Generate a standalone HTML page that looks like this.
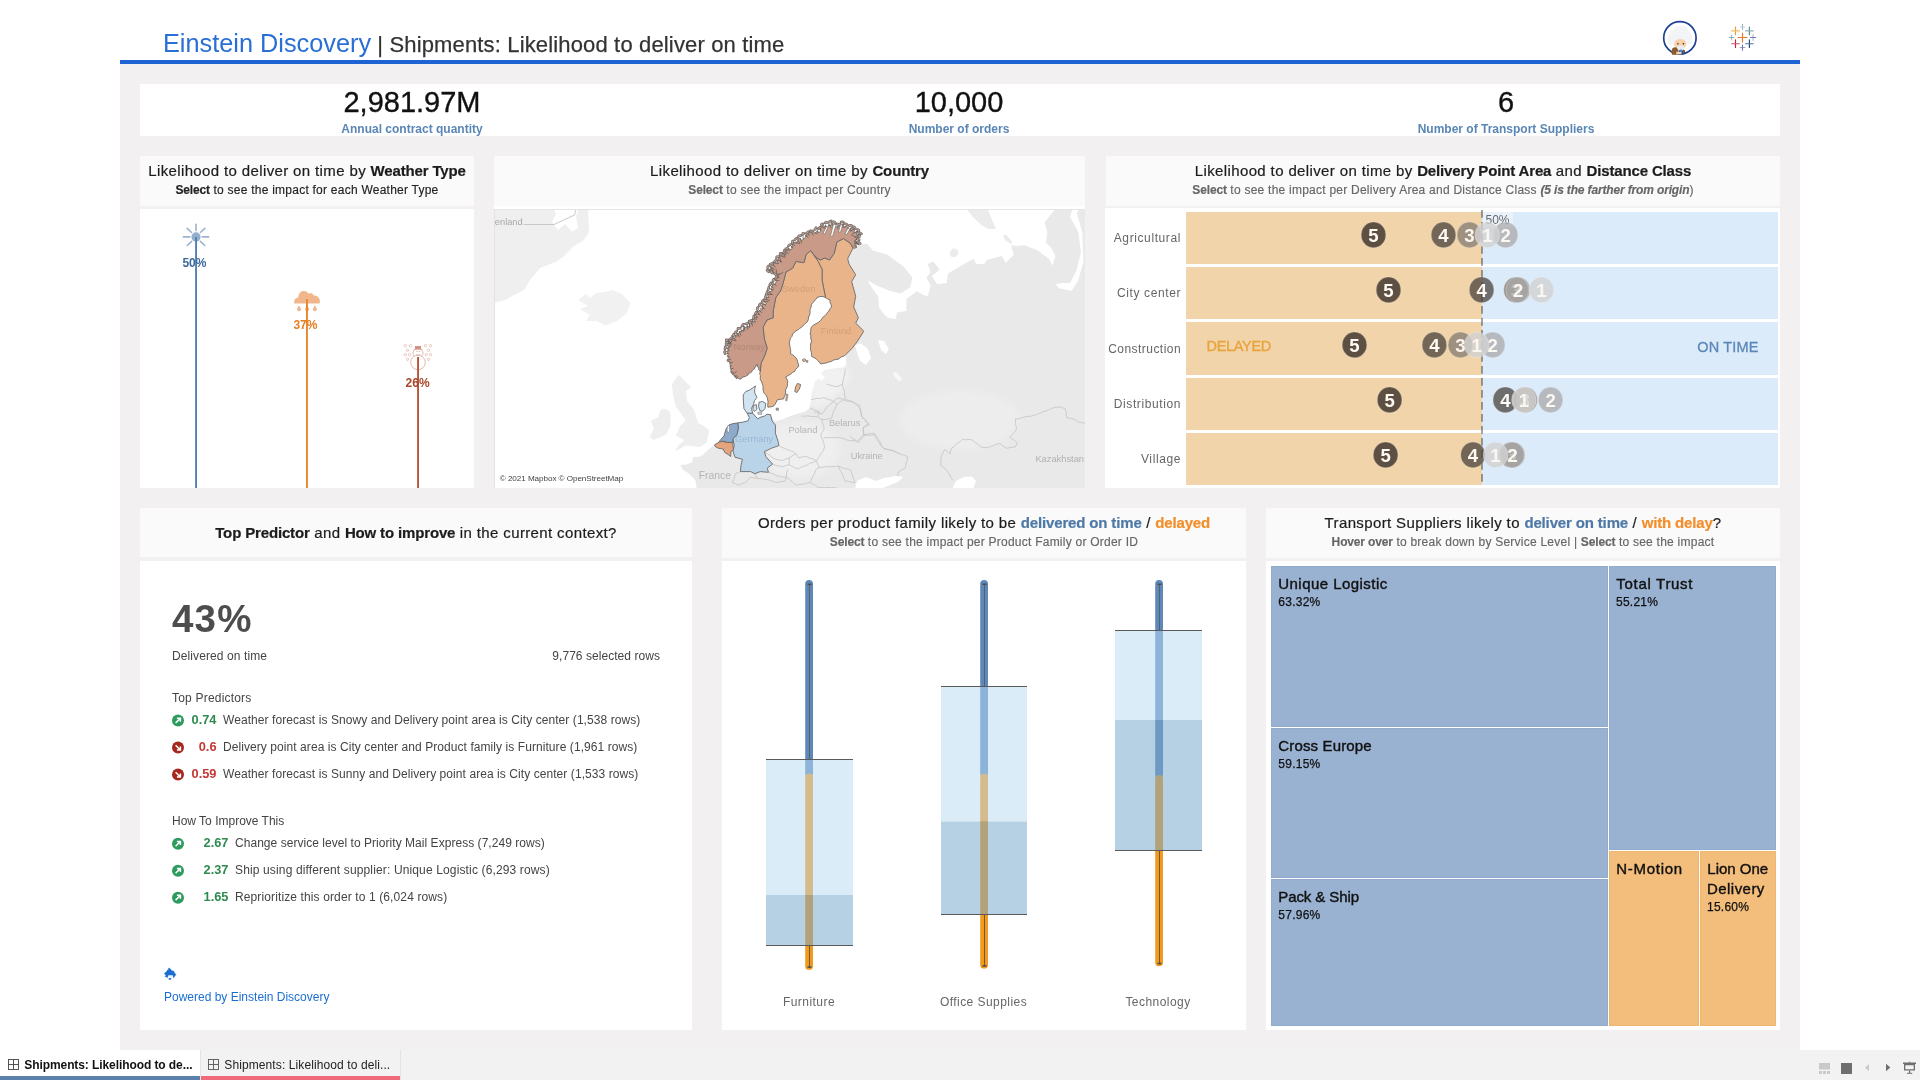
<!DOCTYPE html>
<html>
<head>
<meta charset="utf-8">
<title>Shipments: Likelihood to deliver on time</title>
<style>
html,body{margin:0;padding:0;}
body{width:1920px;height:1080px;overflow:hidden;background:#fff;font-family:"Liberation Sans",sans-serif;color:#333;position:relative;}
.abs{position:absolute;}
#pred,#title,.hdr,.kpi,#tabs,svg{will-change:transform;}
#graybg{left:120px;top:64px;width:1680px;height:986px;background:#f2f0f1;}
#bluebar{left:120px;top:60px;width:1680px;height:4px;background:#1d63d3;}
#title{left:163px;top:27px;height:32px;line-height:32px;white-space:nowrap;}
#title .ed{font-size:25.3px;color:#2a6fd6;}
#title .rest{font-size:22px;color:#333;letter-spacing:0.15px;-webkit-text-stroke:0.25px;}
.panel{background:#fff;}
.hdr{background:#fafafa;text-align:center;white-space:nowrap;}
.hdr .t1{position:absolute;left:0;right:0;font-size:15px;color:#1c1c1c;letter-spacing:0.37px;-webkit-text-stroke:0.2px;}
.hdr .t2{position:absolute;left:0;right:0;font-size:12px;color:#666;letter-spacing:0.24px;-webkit-text-stroke:0.15px;}
.hdr b{font-weight:bold;letter-spacing:-0.15px;}
.kpi{position:absolute;text-align:center;white-space:nowrap;}
.kpi .v{font-size:29px;color:#111;line-height:30px;-webkit-text-stroke:0.35px #111;}
.kpi .l{font-size:12px;color:#5a86b6;font-weight:bold;line-height:14px;}
#tabs{left:0;top:1050px;width:1920px;height:30px;background:#f2f2f2;}
</style>
</head>
<body>
<div id="graybg" class="abs"></div>
<div id="bluebar" class="abs"></div>
<div id="title" class="abs"><span class="ed">Einstein Discovery</span><span class="rest"> | Shipments: Likelihood to deliver on time</span></div>


<!-- LOGOS -->
<svg class="abs" style="left:1655px;top:15px" width="110" height="45" viewBox="1655 15 110 45">
  <defs><clipPath id="ec"><circle cx="1679.9" cy="37.9" r="16.2"/></clipPath></defs>
  <circle cx="1679.900" cy="37.900" r="16.200" fill="none" stroke="#1c3f94" stroke-width="1.700"/>
  <g>
    <path d="M1668,43 C1666.500,38 1669,33.500 1672,32 C1672.500,28 1676.500,25.500 1680,26.500 C1683,24.500 1687.500,27 1688,30.500 C1691.500,32 1693.500,36.500 1692,41 C1693,43 1691,45 1688,44.500 L1672,45 C1669.500,45.500 1668.200,44.500 1668,43Z" fill="#f3f4f6"/>
    <path d="M1674.600,46 C1673.500,42.500 1675.500,39.500 1679,39.300 C1681,39 1684.500,39.200 1685.600,41.500 C1686.800,43.500 1686.400,46.500 1684.500,47.800 L1676.500,47.800Z" fill="#f8d0aa"/>
    <rect x="1677.200" y="43" width="1.400" height="1.500" fill="#5a4a3c"/><rect x="1682.800" y="43" width="1.300" height="1.500" fill="#3c3028"/>
    <path d="M1676.500,46.200 Q1680.500,44.800 1684.300,46.200 L1683.600,49.400 L1680.500,50.200 L1677.500,49.200Z" fill="#e9ebee"/>
    <path d="M1672,49.500 C1672.500,47.500 1675,46.800 1676.800,47.800 L1678.800,51 L1677,54.800 L1672.200,54.800 C1671.300,53 1671.400,51 1672,49.500Z" fill="#8a5b2c"/>
    <path d="M1683,49.400 L1684.800,50.200 L1685.400,53 L1683.200,53.600Z" fill="#7a4e26"/>
    <path d="M1678.800,50.200 L1682.800,50.200 L1683.400,53.800 L1679.500,54Z" fill="#1d4f9f"/>
    <path d="M1680.200,49.600 L1681.600,49.600 L1682,52.600 L1680.800,53.600 L1679.800,52.400Z" fill="#2f8fdd"/>
    <path d="M1676.400,51.800 L1681.600,52 L1681.400,54.300 L1676.200,54.500Z" fill="#f8d0aa"/>
  </g>
  <g stroke-width="1.150" stroke-linecap="round" fill="none">
    <path d="M1738.100,37.500 h8.800 M1742.500,33.100 v8.800" stroke="#e8762c"/>
    <path d="M1735.500,27.100 v7.600" stroke="#eb9d27"/><path d="M1731.700,30.900 h7.600" stroke="#f0b961"/>
    <path d="M1749.400,27.100 v7.600" stroke="#59879b"/><path d="M1745.600,30.900 h7.600" stroke="#8fb0bc"/>
    <path d="M1735.500,39.900 v7.600" stroke="#c72035"/><path d="M1731.700,43.700 h7.600" stroke="#d4506a"/>
    <path d="M1749.400,39.900 v7.600" stroke="#1f447e"/><path d="M1745.600,43.700 h7.600" stroke="#5070a6"/>
    <g stroke-width="0.900">
    <path d="M1742.500,24.400 v5.200" stroke="#8aa9b6"/><path d="M1740.300,27 h4.400" stroke="#b3cad2"/>
    <path d="M1742.500,45 v5.400" stroke="#5a699d"/><path d="M1740.200,47.600 h4.600" stroke="#8089b5"/>
    <path d="M1731.600,35 v5" stroke="#8fb3b6"/><path d="M1729.300,37.500 h4.600" stroke="#7ba3a8"/>
    <path d="M1753.100,34.600 v5.800" stroke="#9aa0c6"/><path d="M1750.300,37.500 h5.600" stroke="#666fa6"/>
    </g>
  </g>
</svg>
<!-- KPI row -->
<div class="abs panel" style="left:140px;top:84px;width:1640px;height:52px;"></div>
<div class="kpi" style="left:312px;top:87px;width:200px;"><div class="v">2,981.97M</div><div class="l" style="margin-top:5px">Annual contract quantity</div></div>
<div class="kpi" style="left:859px;top:87px;width:200px;"><div class="v">10,000</div><div class="l" style="margin-top:5px">Number of orders</div></div>
<div class="kpi" style="left:1406px;top:87px;width:200px;"><div class="v">6</div><div class="l" style="margin-top:5px">Number of Transport Suppliers</div></div>

<!-- Row 2 headers -->
<div class="abs hdr" id="h1" style="left:140px;top:156px;width:334px;height:50px;">
  <div class="t1" style="top:6px">Likelihood to deliver on time by <b>Weather Type</b></div>
  <div class="t2" style="top:27px;color:#222"><b>Select</b> to see the impact for each Weather Type</div>
</div>
<div class="abs hdr" id="h2" style="left:494px;top:156px;width:591px;height:50px;">
  <div class="t1" style="top:6px">Likelihood to deliver on time by <b>Country</b></div>
  <div class="t2" style="top:27px"><b>Select</b> to see the impact per Country</div>
</div>
<div class="abs hdr" id="h3" style="left:1106px;top:156px;width:674px;height:50px;">
  <div class="t1" style="top:6px">Likelihood to deliver on time by <b>Delivery Point Area</b> and <b>Distance Class</b></div>
  <div class="t2" style="top:27px"><b>Select</b> to see the impact per Delivery Area and Distance Class <b><i>(5 is the farther from origin</i></b>)</div>
</div>

<!-- Row 2 panels -->
<div class="abs panel" id="p1" style="left:140px;top:209px;width:334px;height:279px;"></div>
<div class="abs panel" id="p2" style="left:494px;top:206px;width:591px;height:282px;"></div>
<div class="abs panel" id="p3" style="left:1105px;top:208px;width:675px;height:280px;"></div>


<!-- WEATHER CHART -->
<svg class="abs" style="left:140px;top:209px" width="334" height="279" viewBox="140 209 334 279">
  <g stroke="#9ab3cf" stroke-width="1.6" stroke-linecap="round">
    <line x1="183.3" y1="236.9" x2="189.7" y2="236.9"/><line x1="202.3" y1="236.9" x2="208.7" y2="236.9"/>
    <line x1="196" y1="224.4" x2="196" y2="230.6"/>
    <line x1="187.2" y1="228.3" x2="191.6" y2="232.5"/><line x1="204.8" y1="228.3" x2="200.4" y2="232.5"/>
    <line x1="187.2" y1="245.5" x2="191.6" y2="241.3"/><line x1="204.8" y1="245.5" x2="200.4" y2="241.3"/>
  </g>
  <circle cx="196" cy="236.9" r="4.6" fill="#94afcc"/>
  <rect x="195.1" y="237" width="1.9" height="251" fill="#557fae"/>
  <text x="194.4" y="266.6" font-size="12" font-weight="bold" fill="#3d6a9c" text-anchor="middle">50%</text>

  <path d="M294.2,303.4 C293.6,300 295.8,297.6 298.3,297.4 C298.3,293.6 300.8,291.1 303.8,291.1 C306,291.1 307.8,292.3 308.8,294 C309.6,293 311.2,292.7 312.2,293.6 C313,294.2 313.4,294.9 313.6,295.6 C316.6,295 319.9,297.6 319.9,301.2 C319.9,302 319.8,302.8 319.6,303.4 Z" fill="#f1b68c"/>
  <g fill="#f1b68c">
    <path d="M299,305.2 C300,307 301,308 301,309.3 A2,2 0 0 1 297,309.3 C297,308 298,307 299,305.2Z"/>
    <path d="M307.1,305.2 C308.1,307 309.1,308 309.1,309.3 A2,2 0 0 1 305.1,309.3 C305.1,308 306.1,307 307.1,305.2Z"/>
    <path d="M314.9,305.2 C315.9,307 316.9,308 316.9,309.3 A2,2 0 0 1 312.9,309.3 C312.9,308 313.9,307 314.9,305.2Z"/>
  </g>
  <rect x="306" y="299" width="1.9" height="189" fill="#e8862c"/>
  <text x="305.4" y="328.8" font-size="12" font-weight="bold" fill="#e47f22" text-anchor="middle">37%</text>

  <g fill="none" stroke="#dca898" stroke-width="0.8">
    <circle cx="418" cy="362.4" r="7.3"/>
    <path d="M414.3,356.2 A4.8,4.8 0 1 1 421.7,356.2"/>
    <path d="M416.2,354.6 Q418,356.2 419.8,354.6"/>
    <g stroke-width="0.6">
    <circle cx="405.3" cy="345.6" r="1.2"/><circle cx="410.5" cy="345.6" r="1.2"/><circle cx="407.5" cy="350.3" r="1.2"/>
    <circle cx="405.3" cy="354.6" r="1.2"/><circle cx="409.5" cy="354.6" r="1.2"/><circle cx="407.5" cy="359.3" r="1.2"/>
    <circle cx="425.4" cy="345.6" r="1.2"/><circle cx="430.6" cy="345.6" r="1.2"/><circle cx="428.5" cy="350.3" r="1.2"/>
    <circle cx="426.3" cy="354.6" r="1.2"/><circle cx="430.6" cy="354.6" r="1.2"/><circle cx="428.5" cy="359.3" r="1.2"/>
    </g>
  </g>
  <rect x="415" y="346" width="6" height="3" fill="#cf9483"/>
  <rect x="413.6" y="349" width="8.8" height="0.8" fill="#dca898"/>
  <rect x="416.2" y="351.2" width="1.3" height="0.8" fill="#dca898"/><rect x="418.8" y="351.2" width="1.3" height="0.8" fill="#dca898"/>
  <rect x="417.1" y="357" width="1.9" height="131" fill="#b6553a"/>
  <text x="417.6" y="386.5" font-size="12" font-weight="bold" fill="#a8482a" text-anchor="middle">26%</text>
</svg>
<!-- MAP -->
<svg class="abs" style="left:494px;top:209px" width="591" height="279" viewBox="494 209 591 279" font-family="Liberation Sans, sans-serif">
<defs><filter id="bl" x="-5%" y="-5%" width="110%" height="110%"><feGaussianBlur stdDeviation="0.7"/></filter><filter id="bl2"><feGaussianBlur stdDeviation="3"/></filter></defs>
<rect x="494" y="209" width="591" height="279" fill="#fff"/>
<g filter="url(#bl)">
<path d="M494.0,207.0 L553.0,207.0 L556.0,214.0 L552.0,222.0 L558.0,230.0 L565.0,224.0 L572.0,232.0 L578.0,228.0 L576.0,216.0 L579.0,209.0 L588.0,207.0 L589.0,232.0 L584.0,240.0 L574.0,246.0 L564.0,256.0 L556.0,262.0 L540.0,268.0 L530.0,280.0 L524.0,290.0 L512.0,296.0 L505.0,300.0 L494.0,303.0Z" fill="#efefef"/>
<path d="M586.0,294.0 L590.0,298.0 L596.0,293.0 L604.0,292.0 L612.0,290.0 L622.0,294.0 L630.5,303.0 L627.0,313.0 L617.0,321.0 L606.0,325.5 L596.0,321.0 L586.0,321.0 L590.0,315.0 L580.0,309.0 L588.0,306.0 L578.0,300.0Z" fill="#f1f1f1"/>
<path d="M678.7,374.7 L684.0,380.0 L691.2,387.2 L686.0,391.0 L687.1,401.1 L694.0,409.4 L698.2,423.3 L704.0,426.0 L709.3,430.3 L706.5,442.8 L699.6,446.9 L685.7,445.6 L680.0,449.0 L674.6,451.1 L679.0,445.0 L684.3,440.0 L675.9,435.8 L680.1,426.1 L685.7,420.6 L680.1,412.2 L675.9,406.7 L673.2,395.6 L671.8,384.4Z" fill="#eeeeee"/><path d="M660.7,409.4 L666.0,409.0 L670.4,412.2 L670.4,426.1 L666.2,434.4 L653.7,440.0 L649.6,437.2 L653.7,428.9 L650.9,420.6 L657.9,417.8Z" fill="#eeeeee"/>
<path d="M696.8,489.0 L695.4,480.3 L691.0,476.0 L688.4,473.3 L683.0,470.0 L680.1,465.0 L686.0,464.5 L692.6,462.2 L692.0,459.0 L694.0,456.7 L698.0,457.0 L702.3,455.3 L708.0,450.0 L714.8,444.2 L719.2,441.4 L724.0,436.0 L726.0,429.1 L728.8,425.0 L737.7,422.9 L742.5,422.2 L748.0,420.9 L749.3,417.5 L747.3,413.3 L752.8,413.3 L757.6,418.8 L764.4,416.1 L770.6,414.7 L774.7,421.5 L782.2,419.5 L790.5,416.1 L798.7,413.3 L804.2,412.0 L809.7,407.9 L811.0,400.3 L811.7,392.1 L813.8,386.6 L815.1,381.1 L819.3,378.4 L822.0,381.0 L824.5,377.0 L820.6,372.9 L826.1,369.5 L837.1,368.1 L843.9,367.4 L846.5,364.0 L845.3,355.1 L852.2,348.2 L857.0,341.9 L863.8,331.2 L855.7,323.1 L858.4,317.8 L853.7,307.0 L855.7,296.3 L851.7,281.5 L855.7,274.8 L849.0,264.0 L847.7,258.7 L853.0,248.0 L860.4,245.3 L860.7,243.9 L867.4,243.9 L872.8,250.6 L887.6,254.7 L903.7,266.7 L912.4,277.5 L910.4,286.9 L901.0,293.6 L890.3,290.9 L876.8,285.5 L867.4,280.2 L872.0,288.0 L878.2,296.3 L878.9,307.0 L883.0,313.0 L887.6,317.8 L895.6,319.1 L897.0,312.4 L906.4,311.0 L906.4,299.0 L917.1,290.9 L923.0,295.0 L927.9,296.3 L930.5,285.5 L926.5,277.5 L930.5,272.1 L927.9,264.0 L933.2,261.4 L939.9,269.4 L931.9,276.1 L937.2,284.2 L946.6,282.9 L948.0,273.5 L961.4,265.4 L973.5,258.7 L976.2,264.0 L984.2,264.0 L986.9,260.0 L1001.7,256.0 L1005.7,262.7 L1013.8,254.7 L1011.1,245.3 L1017.0,246.0 L1024.5,245.3 L1037.9,250.6 L1048.7,258.7 L1052.7,265.4 L1055.4,256.0 L1051.3,248.0 L1046.0,242.6 L1047.3,231.8 L1044.6,222.4 L1054.0,210.4 L1054.5,207.0 L1073.0,207.0 L1070.1,217.1 L1078.2,231.8 L1080.9,252.0 L1076.8,269.4 L1070.1,282.9 L1062.0,283.0 L1055.4,284.2 L1059.4,288.2 L1071.5,290.9 L1078.2,280.2 L1083.6,261.4 L1082.2,231.8 L1076.8,213.1 L1080.9,207.0 L1090.0,207.0 L1090.0,489.0Z" fill="#e9e9e9"/>
<path d="M966.0,207.0 L987.0,207.0 L990.0,215.0 L996.0,229.0 L988.0,229.0 L980.0,224.0 L972.0,216.0 L968.0,211.0Z" fill="#ebebeb"/><path d="M949.5,252.5 L953.0,248.2 L957.5,249.5 L958.6,254.0 L955.0,257.3 L950.5,256.5Z" fill="#ebebeb"/><path d="M1003.0,235.0 L1006.0,234.5 L1012.4,242.0 L1011.0,244.0 L1005.0,240.0Z" fill="#ebebeb"/>
<path d="M855.0,345.0 L861.0,343.5 L868.0,349.0 L871.0,358.0 L866.0,365.0 L860.0,361.0 L857.0,352.0Z" fill="#fff"/><path d="M878.0,340.0 L884.0,341.0 L888.9,349.0 L886.0,354.0 L881.0,350.0Z" fill="#fff"/><path d="M893.0,372.5 L896.0,372.0 L902.0,379.0 L899.5,381.7 L894.5,377.0Z" fill="#f8f8f8"/><path d="M855.0,489.0 L857.0,481.0 L866.0,477.0 L876.0,481.0 L884.0,478.0 L896.0,476.0 L903.0,477.0 L898.0,482.0 L888.0,486.0 L880.0,489.0Z" fill="#fff"/><path d="M952.0,489.0 L956.0,481.0 L964.0,477.0 L972.0,476.5 L976.0,481.0 L973.0,489.0Z" fill="#fff"/>
</g>
<path d="M812.0,372.0 L826.0,366.0 L846.0,366.0 L850.0,376.0 L840.0,392.0 L826.0,404.0 L812.0,408.0 L809.0,396.0Z" fill="#fff" fill-opacity="0.35" filter="url(#bl2)"/>
<ellipse cx="800" cy="450" rx="40" ry="28" fill="#fff" fill-opacity="0.25" filter="url(#bl2)"/>
<ellipse cx="960" cy="420" rx="60" ry="30" fill="#fff" fill-opacity="0.18" filter="url(#bl2)"/>
<g fill="none" stroke="#c4c4c4" stroke-width="0.8" stroke-linejoin="round">
<path d="M1086.0,423.5 L1081.9,422.7 L1077.8,421.9 L1075.1,419.8 L1072.0,418.5 L1066.7,417.8 L1066.4,414.8 L1066.1,411.7 L1065.3,408.8 L1060.0,407.0 L1054.2,407.4 L1051.4,408.6 L1048.7,409.9 L1045.9,411.1 L1042.9,411.6 L1040.2,413.0 L1037.5,414.3 L1034.4,415.2 L1031.3,416.2 L1028.0,416.4 L1024.8,416.9 L1021.7,417.9 L1018.5,418.7 L1015.3,419.2 L1015.6,422.5 L1015.8,425.7 L1016.7,428.9 L1014.6,431.8 L1012.4,434.7 L1009.7,437.2 L1012.4,438.9 L1014.9,440.9 L1017.4,442.8 L1015.3,446.9 L1011.1,447.4 L1006.9,448.3 L1003.3,446.1 L1000.0,443.5 L996.8,444.2 L993.7,445.3 L990.6,446.6 L987.5,447.6 L984.0,447.5 L980.6,446.9 L978.1,444.2 L974.9,442.4 L972.2,440.0 L969.0,439.4 L965.7,439.8 L962.5,439.3 L959.9,441.8 L956.8,443.6 L954.3,446.2 L951.4,448.3 L950.0,453.9 L947.5,451.4 L944.4,449.7 L942.7,453.2 L941.0,456.7 L941.0,460.9 L940.3,465.0 L943.9,467.6 L947.2,470.6 L949.1,473.8 L950.8,477.1 L952.8,480.3"/>
<path d="M850.0,435.8 L852.5,438.5 L855.8,440.2 L858.3,442.8 L861.0,439.2 L863.9,435.8 L867.6,435.0 L871.4,435.3 L875.0,434.4 L877.0,437.0 L878.7,439.7 L880.4,442.5 L881.7,445.5 L883.3,448.3 L886.4,449.4 L889.7,450.1 L893.0,450.4 L895.8,451.9 L898.6,453.4 L901.6,454.6 L904.7,455.3 L907.6,456.7 L907.2,460.5 L905.8,464.0 L905.6,467.8 L902.0,469.6 L898.6,471.9 L897.2,476.1"/>
<path d="M813.5,412.0 L817.9,412.5 L822.0,414.0 L824.1,411.1 L826.0,408.0 L828.3,405.9 L830.7,403.9 L833.1,401.9 L835.4,399.7 L838.0,398.0 L842.2,399.0 L846.0,401.0 L850.0,401.1 L853.3,402.3 L856.5,403.8 L859.7,405.3 L859.7,408.6 L861.0,411.7 L861.1,415.0 L862.8,417.7 L865.5,419.7 L867.4,422.2 L869.4,424.7 L866.2,425.8 L863.2,427.5 L863.2,431.7 L863.9,435.8"/>
<path d="M801.4,416.1 L804.7,416.1 L808.0,415.9 L811.3,416.5 L814.6,416.5 L817.9,416.8 L822.0,419.5 L822.3,422.8 L823.7,425.8 L824.1,429.1 L822.5,431.9 L820.6,434.6 L821.6,438.2 L823.4,441.4 L824.7,446.9 L823.3,450.4 L821.2,453.4 L819.3,456.5 L816.5,460.6"/>
<path d="M778.8,445.6 L781.7,447.2 L784.6,448.5 L787.7,449.7 L790.7,450.6 L793.4,452.0 L796.0,453.8 L798.7,457.9 L802.7,456.8 L806.9,456.5 L810.0,458.3 L813.4,459.0 L816.5,460.6"/>
<path d="M809.7,407.9 L812.8,409.2 L815.9,410.5 L819.3,411.3 L817.9,416.1"/>
<path d="M811.0,399.6 L814.1,399.0 L817.2,398.4 L820.4,398.5 L823.4,397.6 L827.4,399.1 L831.6,400.3 L834.5,402.2 L837.1,404.4 L835.5,407.1 L834.5,410.0 L833.0,412.7 L831.6,418.1 L828.4,418.8 L825.3,419.5 L822.0,419.5"/>
<path d="M826.1,383.9 L829.7,385.0 L833.3,386.1 L837.1,386.6 L839.9,385.4 L842.6,383.9 L842.7,387.0 L844.1,389.8 L844.5,392.9 L844.8,395.9 L845.3,398.9 L842.3,400.4 L839.6,402.2 L837.1,404.4"/>
<path d="M845.3,368.8 L844.9,371.8 L844.5,374.9 L843.7,377.8 L843.1,380.9 L842.6,383.9"/>
<path d="M845.3,398.9 L848.3,400.7 L851.8,401.4 L854.9,403.1 L857.4,406.0 L860.4,408.5 L860.8,412.7 L861.8,416.8 L863.8,419.3 L866.1,421.5 L868.6,423.6 L865.8,425.6 L863.1,427.7 L863.6,431.1 L863.8,434.6"/>
<path d="M823.4,438.0 L826.8,437.7 L830.2,437.5 L833.7,437.8 L837.1,437.3 L840.6,437.8 L844.0,438.7 L847.3,440.1 L850.8,440.8 L854.2,440.8 L857.6,441.4 L859.4,438.9 L861.4,436.6 L863.8,434.6 L867.2,434.2 L870.6,433.5 L874.1,433.2 L875.0,436.2 L876.5,438.9 L878.2,441.4 L880.6,445.2 L883.7,448.3 L887.1,449.2 L890.4,450.1 L893.7,451.2 L896.8,452.7 L900.1,453.8"/>
<path d="M816.5,460.6 L817.7,464.1 L819.3,467.5 L822.5,467.2 L825.6,466.8 L828.8,466.7 L832.1,466.7 L835.3,466.5 L838.5,466.1 L839.6,469.0 L840.9,471.8 L842.6,474.3 L843.8,477.8 L845.3,481.2 L848.6,481.3 L851.7,482.4 L854.9,482.6 L853.7,479.5 L852.9,476.4 L851.7,473.4 L850.8,470.2 L847.8,469.0 L844.5,468.5 L841.5,467.4 L838.5,466.1"/>
<path d="M764.4,451.7 L767.3,453.6 L770.1,455.6 L772.7,457.9 L775.7,459.2 L779.0,459.8 L782.2,460.6 L785.6,459.1 L789.1,457.9 L792.5,455.7 L796.0,453.8"/>
<path d="M772.7,464.1 L775.7,465.4 L779.0,465.9 L782.2,466.8 L785.6,465.5 L789.1,464.7 L789.4,461.3 L789.1,457.9"/>
<path d="M789.1,464.7 L792.2,466.3 L795.3,467.9 L798.7,468.9 L801.3,467.1 L804.2,466.1 L807.1,465.0 L809.7,463.4 L813.2,462.3 L816.5,460.6"/>
<path d="M787.7,469.5 L786.6,473.2 L786.4,477.1 L789.1,478.8 L791.3,481.0 L793.8,483.0 L796.0,485.3 L799.3,484.3 L802.9,484.4 L806.3,483.3 L809.7,482.6 L811.4,480.0 L812.3,477.0 L814.1,474.5 L815.1,471.6 L816.5,468.9 L819.3,467.5"/>
<path d="M768.5,472.3 L772.7,473.8 L776.8,475.7 L779.9,476.4 L783.1,477.1 L786.4,477.1"/>
<path d="M754.8,473.7 L757.6,478.5 L761.3,478.5 L764.9,479.5 L768.5,479.8 L772.6,481.3 L776.8,482.6 L780.8,481.6 L785.0,481.2 L786.4,477.1"/>
<path d="M740.4,471.6 L735.6,473.7 L734.6,476.7 L733.7,479.7 L732.2,482.6 L735.4,483.7 L738.4,485.3 L741.7,483.7 L745.2,482.6 L748.0,479.9 L750.7,477.1 L754.1,477.9 L757.6,478.5"/>
<path d="M809.7,482.6 L812.6,483.9 L815.4,485.3 L817.9,487.4 L821.1,487.3 L824.3,487.8 L827.5,487.4 L830.7,487.6 L833.9,487.6 L837.1,488.0"/>
</g>
<path d="M523.5,224.5 L554,224.5 L574.5,215 L576,209" fill="none" stroke="#bdbdbd" stroke-width="0.8"/>
<g stroke="#6a6a6a" stroke-width="0.9" stroke-linejoin="round">
<path d="M810.7,250.6 L815.4,256.7 L820.1,260.0 L824.8,258.0 L829.5,260.0 L834.2,253.3 L836.9,241.9 L843.6,238.6 L850.3,243.3 L853.0,248.0 L847.7,258.7 L849.0,264.0 L855.7,274.8 L851.7,281.5 L855.7,296.3 L853.7,307.0 L858.4,317.8 L855.7,323.1 L863.8,331.2 L857.0,341.9 L852.2,348.2 L845.3,355.1 L843.6,356.2 L841.6,356.8 L840.0,357.9 L838.4,359.2 L835.9,359.5 L833.5,360.1 L831.3,361.5 L828.9,361.9 L826.9,362.8 L824.8,363.3 L822.7,363.5 L820.6,364.0 L819.4,362.2 L817.9,360.6 L816.1,358.8 L813.9,357.6 L811.7,356.4 L811.5,354.3 L811.3,352.3 L810.7,350.3 L810.4,348.2 L810.7,346.2 L810.4,344.0 L811.4,342.1 L811.4,340.0 L810.7,338.0 L810.9,335.8 L810.1,333.9 L810.7,331.7 L810.8,329.3 L811.4,327.1 L813.1,325.5 L815.0,324.2 L817.1,323.2 L819.0,321.9 L820.8,320.4 L821.9,318.6 L823.2,317.0 L824.9,315.7 L826.3,314.2 L827.5,312.5 L828.9,311.0 L830.0,308.8 L831.5,307.0 L831.1,304.6 L830.0,302.4 L830.0,300.0 L827.7,299.0 L825.5,297.6 L824.2,290.9 L822.1,280.2 L822.1,269.4 L818.1,261.4 L810.7,250.6Z" fill="#e9b48a"/>
<path d="M760.3,371.5 L761.0,363.3 L764.4,356.4 L767.2,348.2 L764.4,339.2 L763.1,327.1 L767.1,319.8 L773.2,317.8 L773.2,311.0 L775.8,297.6 L780.5,290.9 L783.2,282.9 L785.9,272.1 L792.6,268.1 L796.0,261.4 L804.0,262.7 L806.0,254.7 L810.7,250.6 L818.1,261.4 L822.1,269.4 L822.1,280.2 L824.2,290.9 L825.5,297.6 L822.9,296.5 L820.0,296.5 L816.8,297.6 L815.8,299.6 L814.1,301.0 L812.9,302.7 L811.4,304.3 L811.3,306.4 L810.5,308.3 L809.9,310.3 L810.1,312.4 L809.7,314.8 L808.6,317.0 L808.3,319.5 L807.4,321.8 L805.7,323.1 L804.2,324.6 L802.8,326.1 L801.2,327.5 L799.3,328.5 L797.8,330.1 L795.6,330.8 L794.3,332.6 L792.6,333.9 L792.0,336.3 L790.3,338.2 L789.9,340.6 L789.3,343.0 L789.8,345.5 L790.0,347.5 L790.6,349.6 L790.7,351.6 L790.5,353.7 L792.6,354.7 L794.3,356.3 L796.0,357.8 L797.1,359.7 L797.6,361.8 L798.3,363.9 L798.7,366.0 L797.3,367.8 L795.6,369.4 L794.6,371.5 L792.7,372.3 L791.1,373.8 L789.3,374.9 L787.5,375.9 L785.7,377.0 L786.8,379.0 L787.7,381.1 L787.5,383.3 L787.4,385.6 L786.8,387.7 L785.5,389.8 L785.7,392.1 L785.4,394.5 L784.3,396.6 L783.6,398.9 L781.3,399.2 L779.0,399.4 L776.8,400.3 L776.2,402.3 L775.2,404.1 L774.0,405.8 L772.0,406.6 L770.0,406.9 L767.9,407.2 L767.7,404.8 L768.1,402.4 L767.8,400.0 L767.2,397.6 L766.2,395.3 L764.4,393.5 L763.4,391.3 L763.0,389.0 L763.1,386.6 L762.4,384.2 L761.7,381.9 L760.3,379.8 L760.3,377.7 L760.4,375.6 L759.7,373.6 L760.3,371.5Z" fill="#e9b48a"/>
<path d="M797.5,383.4 L800.6,384.5 L799.8,388.0 L797.0,392.5 L794.8,391.5 L795.6,387.0Z" fill="#e9b48a"/><path d="M786.6,394.0 L788.0,394.5 L786.8,401.0 L785.6,400.5Z" fill="#e9b48a" stroke-width="0.6"/>
<path d="M760.3,371.5 L759.5,370.4 L758.7,369.2 L758.8,367.7 L757.4,366.8 L757.5,365.2 L756.9,364.0 L756.3,365.3 L756.0,366.7 L754.6,367.4 L754.5,368.9 L753.1,369.7 L752.3,370.6 L751.8,371.8 L750.9,372.6 L749.6,373.0 L748.3,373.4 L748.1,375.0 L746.8,375.4 L745.8,376.5 L744.2,376.7 L742.7,377.0 L741.8,378.3 L740.7,379.1 L739.3,379.0 L738.2,377.8 L736.8,378.2 L735.3,377.6 L735.4,375.8 L733.8,375.3 L732.7,374.5 L731.8,373.5 L731.3,372.1 L730.8,370.8 L731.5,369.4 L730.3,368.2 L730.7,366.8 L730.6,365.5 L730.0,364.2 L730.1,362.9 L730.0,361.8 L727.4,361.4 L727.1,360.4 L727.5,359.1 L729.4,357.5 L727.9,356.8 L727.1,355.9 L728.1,354.5 L727.4,353.6 L727.3,352.6 L726.6,351.5 L729.1,350.7 L728.7,349.7 L726.6,348.4 L728.3,347.6 L728.2,346.6 L729.9,345.7 L729.3,344.6 L727.3,343.4 L730.7,342.7 L726.7,341.3 L728.6,340.5 L729.7,341.1 L730.2,342.1 L731.8,342.1 L730.2,339.4 L732.1,339.6 L731.1,337.4 L734.1,338.4 L735.1,337.8 L735.1,336.4 L735.5,335.4 L737.4,336.1 L736.4,333.4 L738.4,334.1 L738.8,333.0 L739.5,332.3 L739.9,331.2 L741.9,331.9 L741.6,330.0 L743.7,331.1 L743.1,328.7 L744.4,328.8 L743.4,325.9 L746.1,327.7 L746.8,326.8 L747.1,325.7 L749.3,327.1 L749.8,325.8 L749.5,323.1 L750.7,322.9 L752.3,323.5 L751.7,320.3 L753.8,321.7 L754.2,320.7 L753.4,319.1 L753.6,318.1 L753.8,317.0 L757.3,317.7 L755.1,315.4 L756.0,314.7 L757.1,314.1 L759.6,314.2 L756.7,311.6 L758.8,311.5 L759.4,310.7 L760.2,309.9 L762.1,309.8 L762.4,308.8 L763.1,308.0 L761.2,305.6 L762.4,305.1 L762.7,304.0 L765.4,304.4 L766.2,303.7 L763.4,300.8 L764.1,300.0 L764.9,299.2 L765.4,298.3 L767.0,298.1 L767.6,297.2 L768.4,296.4 L767.3,294.8 L766.5,293.4 L768.7,293.1 L768.8,292.0 L770.1,291.4 L772.2,291.1 L771.4,289.6 L770.9,288.4 L771.8,287.5 L771.6,286.4 L772.9,285.9 L771.0,283.4 L774.9,284.8 L775.0,283.6 L776.0,282.9 L776.2,281.9 L775.6,280.2 L775.8,279.1 L776.4,278.2 L775.8,276.5 L778.5,277.2 L776.9,274.7 L777.5,273.9 L779.8,274.2 L778.2,275.0 L777.1,274.7 L776.5,273.4 L774.9,274.1 L773.8,273.9 L773.1,272.7 L772.9,270.7 L771.3,272.2 L770.8,270.7 L769.3,271.9 L769.1,269.4 L771.1,270.0 L770.9,268.4 L770.2,266.1 L771.2,265.8 L772.3,265.5 L773.5,265.3 L773.7,264.0 L773.6,262.4 L777.0,263.8 L778.3,263.4 L777.1,260.8 L778.0,260.1 L778.6,259.3 L778.0,257.2 L778.8,256.5 L780.4,256.6 L780.8,255.6 L783.5,256.8 L781.9,253.8 L782.2,252.6 L786.1,255.0 L785.4,252.8 L786.0,252.0 L785.6,250.0 L787.7,250.6 L786.7,248.0 L789.2,248.9 L791.5,249.6 L791.9,248.4 L791.4,246.4 L792.9,246.3 L792.2,244.0 L793.4,243.6 L793.5,242.2 L796.3,243.5 L796.3,241.9 L797.9,241.9 L797.8,240.2 L798.3,239.0 L798.9,238.1 L801.2,240.1 L802.5,240.3 L803.1,239.3 L803.9,238.6 L804.8,238.1 L805.5,237.3 L805.8,235.8 L806.4,234.2 L807.9,235.1 L808.6,234.0 L809.1,232.1 L810.1,231.7 L811.6,232.5 L812.6,232.0 L814.3,233.5 L815.0,232.3 L817.1,233.6 L816.7,231.0 L818.8,232.4 L819.8,232.0 L820.6,231.4 L820.0,228.4 L820.5,227.3 L821.4,226.7 L822.2,226.0 L823.1,225.5 L825.1,226.7 L825.6,225.6 L827.1,227.2 L828.1,226.7 L828.7,224.7 L829.9,225.3 L831.1,225.7 L831.3,222.1 L832.8,223.8 L833.5,225.0 L833.9,226.6 L835.2,226.6 L836.3,227.0 L837.9,226.5 L838.9,226.0 L839.5,224.2 L841.7,226.5 L842.0,224.1 L843.3,224.4 L843.4,226.2 L843.9,227.6 L846.5,226.0 L847.4,226.7 L848.1,227.8 L848.5,230.2 L849.9,229.5 L851.7,227.3 L852.8,227.4 L853.3,229.5 L855.2,228.9 L853.7,232.4 L854.9,232.7 L857.8,231.0 L856.5,234.2 L856.8,235.5 L859.2,234.4 L857.7,234.5 L857.5,236.4 L855.9,236.2 L855.0,237.1 L857.0,237.3 L858.0,238.0 L854.3,240.9 L856.1,241.1 L857.1,241.8 L855.8,243.6 L858.4,243.5 L858.5,244.6 L856.7,243.7 L855.9,244.4 L856.5,247.5 L855.5,247.9 L854.4,248.3 L853.0,248.0 L850.3,243.3 L843.6,238.6 L836.9,241.9 L834.2,253.3 L829.5,260.0 L824.8,258.0 L820.1,260.0 L815.4,256.7 L810.7,250.6 L806.0,254.7 L804.0,262.7 L796.0,261.4 L792.6,268.1 L785.9,272.1 L783.2,282.9 L780.5,290.9 L775.8,297.6 L773.2,311.0 L773.2,317.8 L767.1,319.8 L763.1,327.1 L764.4,339.2 L767.2,348.2 L764.4,356.4 L761.0,363.3 L760.3,371.5Z" fill="#c99a88"/>
<path d="M725.0,353.7 L724.5,352.1 L725.5,350.6 L724.9,349.0 L725.4,347.5 L724.8,345.9 L726.9,344.6 L725.7,342.9 L726.1,341.4 L726.3,339.9 L728.6,340.3 L729.8,339.1 L731.4,338.3 L731.5,336.2 L733.5,335.7 L733.7,333.7 L735.0,332.6 L736.3,331.6 L737.5,330.4 L738.0,328.4 L740.0,328.2 L741.4,326.9 L742.4,325.3 L743.6,323.9 L745.8,323.7 L747.7,323.4 L748.5,321.2 L750.4,321.0 L752.0,320.1 L753.2,318.9 L753.6,317.2 L753.9,315.4 L755.1,314.1 L755.9,312.6 L757.2,311.3 L757.4,309.5 L757.4,307.7 L759.1,306.9 L759.3,305.2 L760.1,303.9 L762.0,303.2 L762.2,301.5 L763.1,300.2 L764.4,299.1 L765.5,298.0 L765.4,296.1 L765.9,294.5 L766.8,293.1 L767.2,291.5 L767.8,290.0 L768.7,288.6 L768.8,286.8 L769.4,285.3 L770.4,284.1 L771.1,282.7 L772.9,282.0 L773.2,280.3 L773.7,278.8 L775.6,278.1 L777.0,276.9 L777.5,274.9 L775.9,274.9 L774.7,273.8 L773.6,272.4 L771.8,272.9 L771.0,271.3 L768.8,271.9 L767.5,271.0 L766.7,269.4 L767.6,268.2 L767.9,266.5 L769.2,265.6 L769.9,264.2 L771.7,263.7 L773.1,262.7 L774.5,261.5 L775.8,260.4 L776.2,258.4 L776.8,256.7 L778.9,256.5 L780.0,255.2 L780.2,253.2 L782.6,253.3 L784.0,252.3 L784.3,250.3 L784.9,248.7 L787.3,248.8 L787.4,246.8 L788.6,245.8 L789.7,244.7 L791.6,244.5 L792.5,243.1 L792.5,240.9 L794.0,240.3 L795.3,239.4 L796.4,238.3 L797.6,237.2 L798.8,236.1 L800.4,235.6 L802.3,235.7 L802.9,233.4 L804.8,233.6 L806.4,233.2 L807.8,232.3 L809.0,230.8 L810.7,230.9 L812.5,231.0 L813.9,230.1 L815.3,229.3 L816.0,227.6 L818.6,228.6 L819.6,227.4 L821.2,226.9 L821.4,224.3 L823.0,223.8 L824.6,223.4 L826.0,222.0 L828.1,223.3 L829.5,221.7 L831.1,220.9 L832.9,221.4 L834.7,222.1 L835.9,224.1 L838.0,224.1 L839.7,224.3 L840.6,222.5 L842.0,221.7 L843.7,222.0 L844.5,223.8 L846.3,224.0 L847.5,225.1 L849.2,225.6 L851.3,225.3 L853.1,225.9 L854.6,227.5 L855.5,228.9 L857.0,229.4 L858.7,229.9 L858.5,232.5 L860.1,233.0 L861.5,233.8 L859.7,234.4 L859.4,236.8 L857.4,237.2 L857.3,239.1 L859.7,240.0 L858.6,242.3 L860.2,243.5 L860.8,245.1" fill="none" stroke="#6a6a6a" stroke-width="2.6" stroke-dasharray="2.4 2.6" stroke-linecap="round"/>
<path d="M725.0,353.7 L724.5,352.1 L725.5,350.6 L724.9,349.0 L725.4,347.5 L724.8,345.9 L726.9,344.6 L725.7,342.9 L726.1,341.4 L726.3,339.9 L728.6,340.3 L729.8,339.1 L731.4,338.3 L731.5,336.2 L733.5,335.7 L733.7,333.7 L735.0,332.6 L736.3,331.6 L737.5,330.4 L738.0,328.4 L740.0,328.2 L741.4,326.9 L742.4,325.3 L743.6,323.9 L745.8,323.7 L747.7,323.4 L748.5,321.2 L750.4,321.0 L752.0,320.1 L753.2,318.9 L753.6,317.2 L753.9,315.4 L755.1,314.1 L755.9,312.6 L757.2,311.3 L757.4,309.5 L757.4,307.7 L759.1,306.9 L759.3,305.2 L760.1,303.9 L762.0,303.2 L762.2,301.5 L763.1,300.2 L764.4,299.1 L765.5,298.0 L765.4,296.1 L765.9,294.5 L766.8,293.1 L767.2,291.5 L767.8,290.0 L768.7,288.6 L768.8,286.8 L769.4,285.3 L770.4,284.1 L771.1,282.7 L772.9,282.0 L773.2,280.3 L773.7,278.8 L775.6,278.1 L777.0,276.9 L777.5,274.9 L775.9,274.9 L774.7,273.8 L773.6,272.4 L771.8,272.9 L771.0,271.3 L768.8,271.9 L767.5,271.0 L766.7,269.4 L767.6,268.2 L767.9,266.5 L769.2,265.6 L769.9,264.2 L771.7,263.7 L773.1,262.7 L774.5,261.5 L775.8,260.4 L776.2,258.4 L776.8,256.7 L778.9,256.5 L780.0,255.2 L780.2,253.2 L782.6,253.3 L784.0,252.3 L784.3,250.3 L784.9,248.7 L787.3,248.8 L787.4,246.8 L788.6,245.8 L789.7,244.7 L791.6,244.5 L792.5,243.1 L792.5,240.9 L794.0,240.3 L795.3,239.4 L796.4,238.3 L797.6,237.2 L798.8,236.1 L800.4,235.6 L802.3,235.7 L802.9,233.4 L804.8,233.6 L806.4,233.2 L807.8,232.3 L809.0,230.8 L810.7,230.9 L812.5,231.0 L813.9,230.1 L815.3,229.3 L816.0,227.6 L818.6,228.6 L819.6,227.4 L821.2,226.9 L821.4,224.3 L823.0,223.8 L824.6,223.4 L826.0,222.0 L828.1,223.3 L829.5,221.7 L831.1,220.9 L832.9,221.4 L834.7,222.1 L835.9,224.1 L838.0,224.1 L839.7,224.3 L840.6,222.5 L842.0,221.7 L843.7,222.0 L844.5,223.8 L846.3,224.0 L847.5,225.1 L849.2,225.6 L851.3,225.3 L853.1,225.9 L854.6,227.5 L855.5,228.9 L857.0,229.4 L858.7,229.9 L858.5,232.5 L860.1,233.0 L861.5,233.8 L859.7,234.4 L859.4,236.8 L857.4,237.2 L857.3,239.1 L859.7,240.0 L858.6,242.3 L860.2,243.5 L860.8,245.1" fill="none" stroke="#c99a88" stroke-width="1.2" stroke-dasharray="2.4 2.6" stroke-linecap="round"/>
<path d="M736.4,379.1 L737.5,376.3 M733.9,376.4 L737.2,375.8 M732.4,374.7 L736.8,371.3 M730.3,371.9 L733.6,372.5 M730.2,369.3 L733.5,368.2 M729.4,366.3 L731.8,365.5 M729.1,363.1 L733.0,362.2 M728.0,360.1 L731.0,359.3 M727.4,357.2 L729.6,355.9 M726.4,353.8 L729.1,353.1 M726.6,351.5 L728.9,350.1 M726.7,348.6 L730.1,347.8 M726.9,345.6 L731.3,346.1 M727.2,342.8 L731.8,344.3 M728.7,339.5 L728.6,344.3 M729.7,341.2 L731.3,344.6 M730.8,339.6 L736.3,340.8 M733.0,336.8 L736.1,340.5 M735.1,334.5 L736.1,336.9 M736.9,332.6 L739.6,337.3 M739.3,331.0 L740.9,335.6 M740.9,329.3 L742.8,331.5 M744.0,326.8 L745.1,330.8 M746.9,324.7 L747.9,329.7 M749.3,323.3 L749.7,327.7 M751.2,321.9 L752.6,326.3 M752.9,321.5 L756.0,322.1 M754.2,318.6 L757.0,319.4 M755.7,315.3 L757.6,317.4 M757.1,312.7 L760.5,315.4 M758.7,310.0 L762.1,312.9 M759.6,308.3 L763.6,308.2 M761.7,305.5 L764.8,309.4 M762.7,303.5 L766.2,305.5 M763.7,301.6 L768.3,301.6 M765.3,299.2 L769.9,300.5 M766.6,297.0 L769.3,297.6 M767.8,294.6 L772.7,294.4 M768.8,290.9 L771.7,294.8 M769.8,288.9 L773.8,289.9 M770.8,285.7 L774.0,288.2 M772.8,282.6 L776.6,285.9 M774.6,280.1 L779.1,280.5 M776.8,276.9 L779.6,277.8 M778.9,274.7 L783.2,272.4 M776.6,273.3 L776.1,269.0 M772.8,271.7 L773.1,269.0 M768.1,269.6 L772.7,268.6 M770.4,266.8 L774.3,269.3 M772.8,264.7 L775.9,267.4 M774.8,262.5 L778.6,263.4 M777.0,259.7 L782.0,261.8 M779.8,257.2 L781.0,262.7 M781.4,255.6 L783.4,257.2 M783.7,253.0 L785.1,257.9 M785.2,251.5 L788.5,253.5 M788.6,248.4 L789.4,251.4 M790.8,245.7 L792.8,248.1 M793.0,243.7 L794.9,245.9 M794.8,242.0 L800.0,243.8 M797.2,239.4 L800.3,243.5 M800.2,237.7 L801.6,242.9 M803.1,236.2 L803.1,239.4 M805.0,235.3 L808.5,237.4 M808.4,233.5 L809.4,235.8 M811.3,232.4 L813.5,235.7 M814.4,231.5 L816.2,233.8 M817.4,229.4 L817.9,232.9 M820.2,228.1 L820.8,230.5 M822.0,226.6 L826.5,229.3 M825.5,224.6 L826.3,230.0 M828.7,223.6 L831.3,228.4 M832.7,222.8 L833.0,226.5 M836.0,224.1 L832.8,228.8 M837.9,225.5 L837.8,229.1 M839.9,225.0 L842.6,227.1 M843.8,223.5 L842.4,226.0 M846.5,225.9 L843.4,227.3 M848.3,226.8 L847.7,230.1 M850.6,227.7 L850.9,231.9 M854.2,229.0 L851.0,230.8 M857.2,231.4 L852.5,233.9 M859.9,235.1 L856.6,232.1 M855.8,237.6 L851.2,234.6 M856.9,238.7 L854.3,242.7 M858.4,241.6 L854.0,243.8 M859.4,245.1 L855.2,242.6 M856.7,246.8 L853.6,245.2" fill="none" stroke="#665c57" stroke-width="0.8"/>
<path d="M833.5,224 L830.5,236 L832.5,236.5 L836,225Z M840.5,224.5 L838.6,232 L840.4,232.4 L842.5,225.5Z M826.5,226.5 L823,233.5 L824.8,234 L828,227.5Z M848,228 L845,234 L846.8,234.6 L849.8,229Z" fill="#fff" stroke-width="0.6"/>
<path d="M747.3,413.3 L743.9,408.5 L743.4,401.0 L743.2,394.8 L745.9,391.4 L749.5,390.2 L753.5,387.3 L755.5,385.9 L754.6,389.5 L754.8,392.8 L756.9,397.6 L754.5,400.5 L753.5,404.4 L751.4,408.5 L752.8,413.3Z" fill="#d0e4f2"/><path d="M753.4,405.5 L756.4,404.6 L757.0,409.0 L755.0,411.5 L752.8,409.5Z" fill="#d0e4f2"/><path d="M759.0,402.2 L762.5,401.5 L765.8,403.5 L765.0,408.5 L762.5,411.3 L759.8,410.5 L758.6,406.5Z" fill="#d0e4f2"/><path d="M757.8,412.2 L761.6,412.0 L761.8,414.2 L758.0,414.3Z" fill="#d0e4f2" stroke-width="0.6"/><path d="M776.0,408.0 L778.6,408.2 L778.4,410.4 L776.2,410.3Z" fill="#9a9a9a" stroke-width="0.5"/>
<path d="M747.3,413.3 L752.8,413.3 L757.6,418.8 L761.0,417.0 L764.4,416.1 L767.0,414.2 L770.6,414.7 L772.0,420.9 L775.4,425.0 L775.4,433.2 L778.1,441.4 L778.8,445.6 L771.3,448.3 L764.4,451.7 L765.8,456.5 L772.6,464.1 L767.2,468.2 L768.5,472.3 L760.3,471.6 L754.8,473.7 L750.7,471.6 L740.4,471.6 L741.1,464.7 L742.5,459.3 L735.0,457.2 L732.9,451.0 L734.3,445.6 L732.9,438.7 L737.0,434.6 L738.4,427.7 L737.7,422.9 L742.5,422.2 L748.0,420.9 L749.3,417.5Z" fill="#b9d3e9"/>
<path d="M737.7,422.9 L738.4,427.7 L737.0,434.6 L732.9,438.7 L732.9,442.3 L727.4,442.3 L722.6,441.0 L720.6,442.3 L719.2,441.4 L724.0,436.0 L726.0,429.1 L728.8,425.0 L732.9,423.6Z" fill="#8eaacb"/><path d="M727.6,426.0 L729.3,425.2 L729.6,431.0 L728.0,433.0 L727.0,430.0Z" fill="#f4f7fb" stroke-width="0.5"/>
<path d="M714.4,444.9 L719.2,442.1 L722.6,441.4 L727.4,442.5 L732.9,442.5 L732.9,445.6 L733.6,449.7 L730.8,451.7 L730.8,456.5 L728.1,454.5 L724.7,452.4 L723.3,449.0 L718.5,448.3 L715.8,446.9Z" fill="#e4a47e"/>
<path d="M802.5,359.5 l2,-0.8 l1.5,1.2 l-1.2,1.6 l-2,-0.3Z M806.5,360.5 l1.6,0.3 l-0.5,1.6 l-1.5,-0.3Z" fill="#e9b48a" stroke-width="0.7"/>
</g>
<g font-size="9.3">
<text x="494.8" y="224.6" fill="#a8a8a8">enland</text>
<text x="781.9" y="292.3" fill="#d29f78">Sweden</text>
<text x="820.8" y="334" fill="#d29f78">Finland</text>
<text x="733.6" y="349.7" fill="#b08877">Norway</text>
<text x="735" y="442.2" fill="#9bb8d4">Germany</text>
<text x="788.4" y="433.3" fill="#b4b4b4">Poland</text>
<text x="828.9" y="425.8" fill="#b4b4b4">Belarus</text>
<text x="850.7" y="458.8" fill="#b4b4b4">Ukraine</text>
<text x="698.7" y="479" fill="#b4b4b4" font-size="10.4">France</text>
<text x="1035.4" y="462.3" fill="#b0b0b0">Kazakhstan</text>
</g>
<rect x="497" y="473.5" width="129.5" height="11.5" fill="#fff" fill-opacity="0.7"/>
<text x="499.8" y="481.4" font-size="8.1" fill="#444" letter-spacing="-0.05">© 2021 Mapbox © OpenStreetMap</text>
<rect x="494" y="209" width="591" height="1" fill="#e4e4e4"/><rect x="494" y="209" width="1" height="279" fill="#e4e4e4"/>
</svg>
<!-- DELIVERY CHART -->
<svg class="abs" style="left:1105px;top:208px" width="675" height="280" viewBox="1105 208 675 280" font-family="Liberation Sans, sans-serif">
<rect x="1186" y="212" width="296" height="52" fill="#f1d4a9"/><rect x="1482" y="212" width="296" height="52" fill="#dbebf9"/>
<rect x="1186" y="267" width="296" height="52" fill="#f1d4a9"/><rect x="1482" y="267" width="296" height="52" fill="#dbebf9"/>
<rect x="1186" y="322" width="296" height="53" fill="#f1d4a9"/><rect x="1482" y="322" width="296" height="53" fill="#dbebf9"/>
<rect x="1186" y="378" width="296" height="52" fill="#f1d4a9"/><rect x="1482" y="378" width="296" height="52" fill="#dbebf9"/>
<rect x="1186" y="433" width="296" height="52" fill="#f1d4a9"/><rect x="1482" y="433" width="296" height="52" fill="#dbebf9"/>
<rect x="1483" y="212" width="30" height="15.5" fill="#e9f2fb"/>
<line x1="1482" y1="210.1" x2="1482" y2="485" stroke="#464646" stroke-opacity="0.55" stroke-width="1.8" stroke-dasharray="7.6,4.4"/>
<text x="1485.5" y="223.7" font-size="12" fill="#6a6a6a">50%</text>
<text x="1181" y="242" font-size="12" fill="#666" text-anchor="end" letter-spacing="0.6">Agricultural</text>
<text x="1181" y="297" font-size="12" fill="#666" text-anchor="end" letter-spacing="0.6">City center</text>
<text x="1181" y="353" font-size="12" fill="#666" text-anchor="end" letter-spacing="0.45">Construction</text>
<text x="1181" y="408" font-size="12" fill="#666" text-anchor="end" letter-spacing="0.6">Distribution</text>
<text x="1181" y="463" font-size="12" fill="#666" text-anchor="end" letter-spacing="0.6">Village</text>
<text x="1206.5" y="351.2" font-size="14.5" fill="#e9a23b" stroke="#e9a23b" stroke-width="0.3" letter-spacing="-0.3">DELAYED</text>
<text x="1697.3" y="352.4" font-size="14.5" fill="#5b87b8" stroke="#5b87b8" stroke-width="0.3" letter-spacing="0.15">ON TIME</text>
<ellipse cx="1373.5" cy="234.9" rx="12.3" ry="12.9" fill="#54483c" fill-opacity="0.95" stroke="#fff" stroke-opacity="0.3" stroke-width="0.8"/><text x="1373.5" y="242.1" font-size="18.6" font-weight="bold" fill="#fffaf3" fill-opacity="1" text-anchor="middle">5</text>
<ellipse cx="1443.5" cy="234.9" rx="12.3" ry="12.9" fill="#433b38" fill-opacity="0.72" stroke="#fff" stroke-opacity="0.3" stroke-width="0.8"/><text x="1443.5" y="242.1" font-size="18.6" font-weight="bold" fill="#fffaf3" fill-opacity="1" text-anchor="middle">4</text>
<ellipse cx="1469.4" cy="234.9" rx="12.3" ry="12.9" fill="#8a8076" fill-opacity="0.8" stroke="#fff" stroke-opacity="0.3" stroke-width="0.8"/><text x="1469.4" y="242.1" font-size="18.6" font-weight="bold" fill="#fffaf3" fill-opacity="0.95" text-anchor="middle">3</text>
<ellipse cx="1505.6" cy="234.9" rx="12.3" ry="12.9" fill="#a9a9a9" fill-opacity="0.75" stroke="#fff" stroke-opacity="0.3" stroke-width="0.8"/><text x="1505.6" y="242.1" font-size="18.6" font-weight="bold" fill="#fffaf3" fill-opacity="0.95" text-anchor="middle">2</text>
<ellipse cx="1487.3" cy="234.9" rx="12.3" ry="12.9" fill="#d2d2d2" fill-opacity="0.8" stroke="#fff" stroke-opacity="0.3" stroke-width="0.8"/><text x="1487.3" y="242.1" font-size="18.6" font-weight="bold" fill="#fffaf3" fill-opacity="0.9" text-anchor="middle">1</text>
<ellipse cx="1388.5" cy="289.9" rx="12.3" ry="12.9" fill="#54483c" fill-opacity="0.95" stroke="#fff" stroke-opacity="0.3" stroke-width="0.8"/><text x="1388.5" y="297.1" font-size="18.6" font-weight="bold" fill="#fffaf3" fill-opacity="1" text-anchor="middle">5</text>
<ellipse cx="1481.6" cy="289.9" rx="12.3" ry="12.9" fill="#433b38" fill-opacity="0.72" stroke="#fff" stroke-opacity="0.3" stroke-width="0.8"/><text x="1481.6" y="297.1" font-size="18.6" font-weight="bold" fill="#fffaf3" fill-opacity="1" text-anchor="middle">4</text>
<ellipse cx="1516" cy="289.9" rx="12.3" ry="12.9" fill="#8a8076" fill-opacity="0.8" stroke="#fff" stroke-opacity="0.3" stroke-width="0.8"/><text x="1516" y="297.1" font-size="18.6" font-weight="bold" fill="#fffaf3" fill-opacity="0.95" text-anchor="middle">3</text>
<ellipse cx="1518.1" cy="289.9" rx="12.3" ry="12.9" fill="#a9a9a9" fill-opacity="0.75" stroke="#fff" stroke-opacity="0.3" stroke-width="0.8"/><text x="1518.1" y="297.1" font-size="18.6" font-weight="bold" fill="#fffaf3" fill-opacity="0.95" text-anchor="middle">2</text>
<ellipse cx="1541.5" cy="289.9" rx="12.3" ry="12.9" fill="#d2d2d2" fill-opacity="0.8" stroke="#fff" stroke-opacity="0.3" stroke-width="0.8"/><text x="1541.5" y="297.1" font-size="18.6" font-weight="bold" fill="#fffaf3" fill-opacity="0.9" text-anchor="middle">1</text>
<ellipse cx="1354.5" cy="344.9" rx="12.3" ry="12.9" fill="#54483c" fill-opacity="0.95" stroke="#fff" stroke-opacity="0.3" stroke-width="0.8"/><text x="1354.5" y="352.1" font-size="18.6" font-weight="bold" fill="#fffaf3" fill-opacity="1" text-anchor="middle">5</text>
<ellipse cx="1434.4" cy="344.9" rx="12.3" ry="12.9" fill="#433b38" fill-opacity="0.72" stroke="#fff" stroke-opacity="0.3" stroke-width="0.8"/><text x="1434.4" y="352.1" font-size="18.6" font-weight="bold" fill="#fffaf3" fill-opacity="1" text-anchor="middle">4</text>
<ellipse cx="1460.4" cy="344.9" rx="12.3" ry="12.9" fill="#8a8076" fill-opacity="0.8" stroke="#fff" stroke-opacity="0.3" stroke-width="0.8"/><text x="1460.4" y="352.1" font-size="18.6" font-weight="bold" fill="#fffaf3" fill-opacity="0.95" text-anchor="middle">3</text>
<ellipse cx="1492.7" cy="344.9" rx="12.3" ry="12.9" fill="#a9a9a9" fill-opacity="0.75" stroke="#fff" stroke-opacity="0.3" stroke-width="0.8"/><text x="1492.7" y="352.1" font-size="18.6" font-weight="bold" fill="#fffaf3" fill-opacity="0.95" text-anchor="middle">2</text>
<ellipse cx="1476.6" cy="344.9" rx="12.3" ry="12.9" fill="#d2d2d2" fill-opacity="0.8" stroke="#fff" stroke-opacity="0.3" stroke-width="0.8"/><text x="1476.6" y="352.1" font-size="18.6" font-weight="bold" fill="#fffaf3" fill-opacity="0.9" text-anchor="middle">1</text>
<ellipse cx="1389.6" cy="399.9" rx="12.3" ry="12.9" fill="#54483c" fill-opacity="0.95" stroke="#fff" stroke-opacity="0.3" stroke-width="0.8"/><text x="1389.6" y="407.1" font-size="18.6" font-weight="bold" fill="#fffaf3" fill-opacity="1" text-anchor="middle">5</text>
<ellipse cx="1505.3" cy="399.9" rx="12.3" ry="12.9" fill="#433b38" fill-opacity="0.72" stroke="#fff" stroke-opacity="0.3" stroke-width="0.8"/><text x="1505.3" y="407.1" font-size="18.6" font-weight="bold" fill="#fffaf3" fill-opacity="1" text-anchor="middle">4</text>
<ellipse cx="1525" cy="399.9" rx="12.3" ry="12.9" fill="#8a8076" fill-opacity="0.8" stroke="#fff" stroke-opacity="0.3" stroke-width="0.8"/><text x="1525" y="407.1" font-size="18.6" font-weight="bold" fill="#fffaf3" fill-opacity="0.95" text-anchor="middle">3</text>
<ellipse cx="1550.6" cy="399.9" rx="12.3" ry="12.9" fill="#a9a9a9" fill-opacity="0.75" stroke="#fff" stroke-opacity="0.3" stroke-width="0.8"/><text x="1550.6" y="407.1" font-size="18.6" font-weight="bold" fill="#fffaf3" fill-opacity="0.95" text-anchor="middle">2</text>
<ellipse cx="1523.9" cy="399.9" rx="12.3" ry="12.9" fill="#d2d2d2" fill-opacity="0.8" stroke="#fff" stroke-opacity="0.3" stroke-width="0.8"/><text x="1523.9" y="407.1" font-size="18.6" font-weight="bold" fill="#fffaf3" fill-opacity="0.9" text-anchor="middle">1</text>
<ellipse cx="1385.6" cy="454.9" rx="12.3" ry="12.9" fill="#54483c" fill-opacity="0.95" stroke="#fff" stroke-opacity="0.3" stroke-width="0.8"/><text x="1385.6" y="462.1" font-size="18.6" font-weight="bold" fill="#fffaf3" fill-opacity="1" text-anchor="middle">5</text>
<ellipse cx="1473" cy="454.9" rx="12.3" ry="12.9" fill="#433b38" fill-opacity="0.72" stroke="#fff" stroke-opacity="0.3" stroke-width="0.8"/><text x="1473" y="462.1" font-size="18.6" font-weight="bold" fill="#fffaf3" fill-opacity="1" text-anchor="middle">4</text>
<ellipse cx="1511.5" cy="454.9" rx="12.3" ry="12.9" fill="#8a8076" fill-opacity="0.8" stroke="#fff" stroke-opacity="0.3" stroke-width="0.8"/><text x="1511.5" y="462.1" font-size="18.6" font-weight="bold" fill="#fffaf3" fill-opacity="0.95" text-anchor="middle">3</text>
<ellipse cx="1512.7" cy="454.9" rx="12.3" ry="12.9" fill="#a9a9a9" fill-opacity="0.75" stroke="#fff" stroke-opacity="0.3" stroke-width="0.8"/><text x="1512.7" y="462.1" font-size="18.6" font-weight="bold" fill="#fffaf3" fill-opacity="0.95" text-anchor="middle">2</text>
<ellipse cx="1495.5" cy="454.9" rx="12.3" ry="12.9" fill="#d2d2d2" fill-opacity="0.8" stroke="#fff" stroke-opacity="0.3" stroke-width="0.8"/><text x="1495.5" y="462.1" font-size="18.6" font-weight="bold" fill="#fffaf3" fill-opacity="0.9" text-anchor="middle">1</text>
</svg>
<!-- Row 3 headers -->
<div class="abs hdr" id="h4" style="left:140px;top:508px;width:552px;height:49px;">
  <div class="t1" style="top:16px"><b>Top Predictor</b> and <b>How to improve</b> in the current context?</div>
</div>
<div class="abs hdr" id="h5" style="left:722px;top:508px;width:524px;height:50px;">
  <div class="t1" style="top:6px">Orders per product family likely to be <b style="color:#4e79a7">delivered on time</b> / <b style="color:#f28e2b">delayed</b></div>
  <div class="t2" style="top:27px"><b>Select</b> to see the impact per Product Family or Order ID</div>
</div>
<div class="abs hdr" id="h6" style="left:1266px;top:508px;width:514px;height:50px;">
  <div class="t1" style="top:6px">Transport Suppliers likely to <b style="color:#4e79a7">deliver on time</b> / <b style="color:#f28e2b">with delay</b>?</div>
  <div class="t2" style="top:27px"><b>Hover over</b> to break down by Service Level | <b>Select</b> to see the impact</div>
</div>

<!-- Row 3 panels -->
<div class="abs panel" id="p4" style="left:140px;top:561px;width:552px;height:469px;"></div>
<div class="abs panel" id="p5" style="left:722px;top:561px;width:524px;height:469px;"></div>
<div class="abs panel" id="p6" style="left:1266px;top:561px;width:514px;height:469px;"></div>


<!-- PREDICTOR PANEL -->
<style>
#pred{position:absolute;left:0;top:0;color:#444;font-size:12px;white-space:nowrap;}
#pred div{position:absolute;line-height:14px;}
#pred .num{width:60px;text-align:right;font-weight:bold;font-size:12.8px;}
#pred .g{color:#2e8b50;} #pred .r{color:#c23934;}
#pred .tx{letter-spacing:0.07px;}
#pred .ic{width:12px;height:12px;border-radius:6px;}
</style>
<div id="pred">
  <div style="left:172px;top:597px;font-size:38.5px;line-height:44px;font-weight:bold;color:#4d4d4d;letter-spacing:1.2px">43%</div>
  <div style="left:172px;top:649px;letter-spacing:0.1px">Delivered on time</div>
  <div style="left:460px;top:649px;width:200px;text-align:right;letter-spacing:0.05px">9,776 selected rows</div>
  <div style="left:172px;top:691px;letter-spacing:0.2px">Top Predictors</div>
  <div class="num g" style="left:156.5px;top:713px">0.74</div><div style="left:223px;top:713px" class="tx">Weather forecast is Snowy and Delivery point area is City center (1,538 rows)</div>
  <div class="num r" style="left:156.5px;top:740px">0.6</div><div style="left:223px;top:740px" class="tx">Delivery point area is City center and Product family is Furniture (1,961 rows)</div>
  <div class="num r" style="left:156.5px;top:767px">0.59</div><div style="left:223px;top:767px" class="tx">Weather forecast is Sunny and Delivery point area is City center (1,533 rows)</div>
  <div style="left:172px;top:814px;letter-spacing:0px">How To Improve This</div>
  <div class="num g" style="left:168.5px;top:836px">2.67</div><div style="left:235px;top:836px;letter-spacing:0.04px" class="tx">Change service level to Priority Mail Express (7,249 rows)</div>
  <div class="num g" style="left:168.5px;top:863px">2.37</div><div style="left:235px;top:863px;letter-spacing:0.14px" class="tx">Ship using different supplier: Unique Logistic (6,293 rows)</div>
  <div class="num g" style="left:168.5px;top:890px">1.65</div><div style="left:235px;top:890px;letter-spacing:0.12px" class="tx">Reprioritize this order to 1 (6,024 rows)</div>
  <div style="left:164px;top:990px;color:#1b6fd1;font-size:12px;">Powered by Einstein Discovery</div>
</div>
<svg class="abs" style="left:160px;top:700.4px" width="40" height="300" viewBox="160 700 40 300">
  <g id="upic"><circle cx="178" cy="720.6" r="6" fill="#2e9b5e"/><path d="M175.6,723 L180.2,718.4 M176.9,718.2 L180.4,718.2 L180.4,721.7" stroke="#fff" stroke-width="1.5" fill="none"/></g>
  <g id="dnic"><circle cx="178" cy="747.6" r="6" fill="#a5281f"/><path d="M175.6,745.2 L180.2,749.8 M176.9,750 L180.4,750 L180.4,746.5" stroke="#fff" stroke-width="1.5" fill="none"/></g>
  <use href="#dnic" y="27"/>
  <use href="#upic" y="123.2"/><use href="#upic" y="150.2"/><use href="#upic" y="177.1"/>
  <path d="M169.4,968.1 L171,969.7 L172.3,971 L173.9,971.2 L174.3,972.6 L175.9,974.6 L173.5,977.9 L172.9,975.2 L168.2,975.2 L167.6,977.5 L165.1,976.5 L166.1,975.2 L164.5,974 L165.1,972.6 L167,971.6 L167.2,970.1 L168.6,970.1 L168.4,968.5Z" fill="#1b6fd1" stroke="#1b6fd1" stroke-width="0.5" stroke-linejoin="round"/>
  <path d="M168.6,978.3 Q169.9,977.6 171.3,978.2 L171.2,979.3 Q169.9,980.2 168.6,979.5Z" fill="#1b6fd1"/>
  <path d="M168.4,975.4 h4.300 v1.700 q-2.100,0.800 -4.300,0Z" fill="#e8f0fb"/>
</svg>
<!-- BOXPLOT -->
<svg class="abs" style="left:722px;top:561px" width="524" height="469" viewBox="722 561 524 469" font-family="Liberation Sans, sans-serif">
<rect x="805.2" y="580" width="7.8" height="197.5" rx="3.9" fill="#5f88ba"/>
<rect x="805.2" y="773.5" width="7.8" height="196.29999999999995" rx="3.9" fill="#f29a1c"/>
<rect x="809" y="584" width="1" height="175" fill="#5a5f68"/>
<rect x="807.5" y="583.5" width="4" height="1.6" fill="#4d4d4d"/>
<rect x="809" y="945" width="1" height="21.799999999999955" fill="#6b5a3a"/>
<rect x="807.5" y="966.3" width="4" height="1.6" fill="#4d4d4d"/>
<rect x="766" y="759" width="87" height="136" fill="#badaf4" fill-opacity="0.52"/>
<rect x="766" y="895" width="87" height="51" fill="#7aaacd" fill-opacity="0.54"/>
<rect x="766" y="759" width="87" height="1" fill="#5a5a5a"/>
<rect x="766" y="945" width="87" height="1" fill="#5a5a5a"/>
<rect x="980.2" y="580" width="7.8" height="197.5" rx="3.9" fill="#5f88ba"/>
<rect x="980.2" y="773.5" width="7.8" height="195.10000000000002" rx="3.9" fill="#f29a1c"/>
<rect x="984" y="584" width="1" height="102" fill="#5a5f68"/>
<rect x="982.5" y="583.5" width="4" height="1.6" fill="#4d4d4d"/>
<rect x="984" y="914" width="1" height="51.60000000000002" fill="#6b5a3a"/>
<rect x="982.5" y="965.1" width="4" height="1.6" fill="#4d4d4d"/>
<rect x="941" y="686" width="86" height="135.5" fill="#badaf4" fill-opacity="0.52"/>
<rect x="941" y="821.5" width="86" height="93.5" fill="#7aaacd" fill-opacity="0.54"/>
<rect x="941" y="686" width="86" height="1" fill="#5a5a5a"/>
<rect x="941" y="914" width="86" height="1" fill="#5a5a5a"/>
<rect x="1155.2" y="580" width="7.8" height="199" rx="3.9" fill="#5f88ba"/>
<rect x="1155.2" y="775" width="7.8" height="191.20000000000005" rx="3.9" fill="#f29a1c"/>
<rect x="1159" y="584" width="1" height="46" fill="#5a5f68"/>
<rect x="1157.5" y="583.5" width="4" height="1.6" fill="#4d4d4d"/>
<rect x="1159" y="850" width="1" height="113.20000000000005" fill="#6b5a3a"/>
<rect x="1157.5" y="962.7" width="4" height="1.6" fill="#4d4d4d"/>
<rect x="1115" y="630" width="87" height="90" fill="#badaf4" fill-opacity="0.52"/>
<rect x="1115" y="720" width="87" height="131" fill="#7aaacd" fill-opacity="0.54"/>
<rect x="1115" y="630" width="87" height="1" fill="#5a5a5a"/>
<rect x="1115" y="850" width="87" height="1" fill="#5a5a5a"/>
<text x="809" y="1005.5" font-size="12" fill="#666" text-anchor="middle" letter-spacing="0.45">Furniture</text>
<text x="983.5" y="1005.5" font-size="12" fill="#666" text-anchor="middle" letter-spacing="0.45">Office Supplies</text>
<text x="1158" y="1005.5" font-size="12" fill="#666" text-anchor="middle" letter-spacing="0.45">Technology</text>
</svg>
<!-- TREEMAP -->
<svg class="abs" style="left:1266px;top:561px" width="514" height="469" viewBox="1266 561 514 469" font-family="Liberation Sans, sans-serif">
<g fill="#9ab2d1" stroke="#90abcc" stroke-width="1">
<rect x="1271.5" y="566.5" width="336" height="160"/>
<rect x="1271.5" y="728.5" width="336" height="149"/>
<rect x="1271.5" y="879.5" width="336" height="146"/>
<rect x="1609.5" y="566.5" width="166" height="283"/>
</g>
<g fill="#f3bd7b" stroke="#efb670" stroke-width="1">
<rect x="1609.5" y="851.5" width="89" height="174"/>
<rect x="1700.5" y="851.5" width="75" height="174"/>
</g>
<g font-size="15" fill="#111" stroke="#111" stroke-width="0.4" letter-spacing="0.45">
<text x="1278.3" y="588.7">Unique Logistic</text>
<text x="1278.3" y="750.8" letter-spacing="0.15">Cross Europe</text>
<text x="1278.3" y="901.6" letter-spacing="-0.1">Pack &amp; Ship</text>
<text x="1616.3" y="588.7" letter-spacing="0.7">Total Trust</text>
<text x="1616.3" y="873.8" letter-spacing="0.7">N-Motion</text>
<text x="1707.3" y="873.8" letter-spacing="0">Lion One</text>
<text x="1707" y="893.6">Delivery</text>
</g>
<g font-size="12" fill="#111" stroke="#111" stroke-width="0.25" letter-spacing="0.25">
<text x="1278.3" y="606">63.32%</text>
<text x="1278.3" y="768">59.15%</text>
<text x="1278.3" y="919">57.96%</text>
<text x="1616" y="606">55.21%</text>
<text x="1707" y="910.8">15.60%</text>
</g>
</svg>
<!-- bottom tabs -->
<div id="tabs" class="abs">
  <div class="abs" style="left:0;top:0;width:200px;height:30px;background:#fff;"></div>
  <div class="abs" style="left:0;top:26px;width:200px;height:4px;background:#5b80a9;"></div>
  <div class="abs" style="left:200px;top:0;width:1px;height:30px;background:#e3e3e3;"></div>
  <div class="abs" style="left:201px;top:26px;width:199px;height:4px;background:#ef6a7b;"></div>
  <div class="abs" style="left:400px;top:0;width:1px;height:30px;background:#e3e3e3;"></div>
  <div class="abs" style="left:24.300px;top:8px;font-size:12px;line-height:14px;font-weight:bold;color:#111;white-space:nowrap;letter-spacing:-0.085px">Shipments: Likelihood to de...</div>
  <div class="abs" style="left:224.300px;top:8px;font-size:12px;line-height:14px;color:#222;white-space:nowrap;letter-spacing:0.1px">Shipments: Likelihood to deli...</div>
  <svg class="abs" style="left:0;top:0" width="1920" height="30" viewBox="0 1050 1920 30">
    <g fill="none" stroke="#444" stroke-width="0.900"><rect x="8.500" y="1059.500" width="10" height="10"/><path d="M13.500,1059.500 v10 M8.500,1064.500 h10"/></g>
    <g fill="none" stroke="#555" stroke-width="0.900"><rect x="208.500" y="1059.500" width="10" height="10"/><path d="M213.500,1059.500 v10 M208.500,1064.500 h10"/></g>
    <g fill="#c9c9c9"><rect x="1819" y="1063" width="11" height="6.500"/><rect x="1819" y="1071" width="3" height="3"/><rect x="1823" y="1071" width="3" height="3"/><rect x="1827" y="1071" width="3" height="3"/>
      <path d="M1869,1064.300 v6.800 l-4,-3.400Z"/></g>
    <g fill="#6e6e6e"><rect x="1841" y="1063" width="11" height="11"/><path d="M1886,1063.700 v7.600 l4.300,-3.800Z"/>
      <rect x="1903" y="1062.500" width="13" height="1.500"/><path d="M1904,1064 h11 v6.500 h-11Z M1905.300,1065.200 v4.100 h8.400 v-4.100Z" fill-rule="evenodd"/><rect x="1909" y="1070.500" width="1.200" height="2.500"/><rect x="1907" y="1072.800" width="5.200" height="1"/><rect x="1909" y="1061.700" width="1.200" height="1"/></g>
  </svg>
</div>
</body>
</html>
